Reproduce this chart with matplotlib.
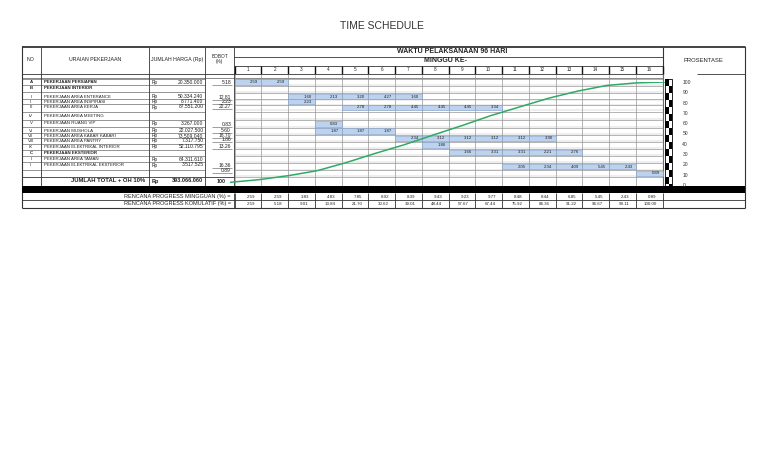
import matplotlib
matplotlib.use('Agg')
import matplotlib.pyplot as plt
from matplotlib.patches import Rectangle
import matplotlib.transforms as mtransforms

plt.rcParams['font.family'] = ['Liberation Sans', 'DejaVu Sans']

# ---------------- data ----------------
title = 'TIME SCHEDULE'
header_time = 'WAKTU PELAKSANAAN 96 HARI'
header_week = 'MINGGU KE-'
codes = ['A', 'B', 'I', 'II', 'III', 'IV', 'V', 'VI', 'VII', 'VIII', 'IX', 'C', 'I', 'II']
items = ['PEKERJAAN PERSIAPAN', 'PEKERJAAN INTERIOR', 'PEKERJAAN AREA ENTERANCE',
         'PEKERJAAN AREA INSPIRASI', 'PEKERJAAN AREA KERJA', 'PEKERJAAN AREA MEETING',
         'PEKERJAAN RUANG VIP', 'PEKERJAAN MUSHOLA', 'PEKERJAAN AREA KABAR KABARI',
         'PEKERJAAN AREA PANTRY', 'PEKERJAAN ELEKTRIKAL INTERIOR', 'PEKERJAAN EKSTERIOR',
         'PEKERJAAN AREA TAMAN', 'PEKERJAAN ELEKTRIKAL EKSTERIOR']
section_rows = [0, 1, 11]
prices = ['20.350.000', '', '50.334.240', '8.771.400', '87.551.200', '', '3.267.000',
          '22.027.500', '73.509.040', '7.317.750', '52.110.795', '', '64.311.610', '3.517.525']
weights = [5.18, None, 12.81, 2.23, 22.27, None, 0.83, 5.60, 18.70, 1.86, 13.26, None, 16.36, 0.89]
sched_start = [1, None, 3, 3, 5, None, 4, 4, 7, 8, 9, None, 11, 16]
sched_vals = [[2.59, 2.59], [], [1.60, 2.13, 3.20, 4.27, 1.60], [2.23],
              [2.78, 2.78, 4.45, 4.45, 4.45, 3.34], [], [0.83], [1.87, 1.87, 1.87],
              [2.34, 3.12, 3.12, 3.12, 3.12, 3.90], [1.86], [1.66, 3.31, 3.31, 2.21, 2.76],
              [], [2.05, 2.34, 4.09, 5.45, 2.43], [0.89]]
weeks = list(range(1, 17))
weekly = [2.59, 2.59, 3.83, 4.83, 7.85, 8.92, 8.39, 9.43, 9.23, 9.77, 8.48, 8.44, 6.85, 5.45, 2.43, 0.89]
cumulative = [2.59, 5.18, 9.01, 13.84, 21.70, 30.62, 39.01, 48.44, 57.67, 67.44, 75.92,
              84.36, 91.22, 96.67, 99.11, 100.00]
total_label = 'JUMLAH TOTAL + OH 10%'
total_price = '393.066.060'
total_weight = '100'
pct_ticks = [0, 10, 20, 30, 40, 50, 60, 70, 80, 90, 100]
row_weekly_label = 'RENCANA PROGRESS MINGGUAN (%) ='
row_cum_label = 'RENCANA PROGRESS KOMULATIF (%) ='

# ---------------- layout ----------------
W, H = 768, 466
fig = plt.figure(figsize=(7.68, 4.66), dpi=100)
ax = fig.add_axes([0, 0, 1, 1])
ax.set_xlim(0, W)
ax.set_ylim(H, 0)
ax.axis('off')

XL, XNO, XUR, XJH, XBB = 22, 41, 149, 205, 233.5
XW0, XW1 = 234.5, 662.5
XR = 745
CW = (XW1 - XW0) / 16
LC = '#333333'
TC = '#222222'

label_y = [82.3, 87.8, 96.7, 101.7, 107, 116, 123.5, 130.5, 136, 140.7, 146.7, 153.3, 159.3, 165]
grid_y = [82, 89, 96.7, 101.7, 107.3, 116, 124, 131, 138.3, 145, 152.3, 159.5, 166.7, 173.3]
bobot_y = [82.5, None, 97.3, 101.7, 106, None, 124, 130.7, 135.7, 139.5, 146, None, 165.7, 170.7]


def colx(w):
    return XW0 + (w - 1) * CW


def hl(y, x0, x1, lw=0.5, c=LC):
    ax.plot([x0, x1], [y, y], color=c, lw=lw, solid_capstyle='butt')


def vl(x, y0, y1, lw=0.5, c=LC):
    ax.plot([x, x], [y0, y1], color=c, lw=lw, solid_capstyle='butt')


def tx(x, y, s, size=3.6, ha='left', weight='normal', c=TC):
    ax.text(x, y, s, fontsize=size, ha=ha, va='center', fontweight=weight, color=c)


# title
tx(382, 26, title, size=7.5, ha='center', c='#333333')

# outer frame + header
hl(46.5, XL, XR, lw=1.1, c='#111111')
vl(XL, 46, 207.5, lw=0.8)
vl(XR, 46, 207.5, lw=0.8)
for x in (XNO, XUR, XJH, XBB):
    vl(x, 46.5, 186, lw=0.6)
vl(XW1, 46.5, 186, lw=0.8)
hl(73.5, XL, XW1, lw=0.6)
hl(78.3, XL, XW1, lw=0.4)
hl(56.5, XBB, XW1, lw=0.6)
hl(65.5, XBB, XW1, lw=0.6)
hl(73.5, 697, XR, lw=0.6)

tx(31, 59.5, 'NO', ha='center', size=3.8)
tx(95, 59.5, 'URAIAN PEKERJAAN', ha='center', size=3.8)
tx(177.5, 59.5, 'JUMLAH HARGA (Rp)', ha='center', size=3.8)
tx(219.5, 56.7, 'BOBOT', ha='center', size=3.4)
tx(219.5, 61.7, '(%)', ha='center', size=3.4)
tx(452, 51.5, header_time, ha='center', size=5, weight='bold')
tx(445, 60.5, header_week, ha='center', size=5, weight='bold')
tx(703, 60, 'PROSENTASE', ha='center', size=4.2)

# week columns
for w in weeks:
    tx(colx(w) + CW / 2, 69.6, str(w), ha='center', size=3.3)
for k in range(17):
    x = XW0 + k * CW
    vl(x, 65.5, 73.5, lw=1.0, c='#111111')
    vl(x, 73.5, 186, lw=0.45, c='#8a8a8a')

# week grid horizontal lines
bounds = [78.5] + [(grid_y[i] + grid_y[i + 1]) / 2 for i in range(len(grid_y) - 1)] + [176.5]
for b in bounds:
    hl(b, XW0, XW1, lw=0.45, c='#8a8a8a')
for gy in grid_y:
    hl(gy + 2.8, XW0, XW1, lw=0.3, c='#b0b0b0')

# left table rows
lb = [78.5] + [(label_y[i] + label_y[i + 1]) / 2 for i in range(len(label_y) - 1)] + [170]
for b in lb:
    hl(b, XL, XJH, lw=0.4, c='#444444')
hl(176.5, XL, XBB, lw=0.6)

for i, (code, item) in enumerate(zip(codes, items)):
    y = label_y[i]
    wt = 'bold' if i in section_rows else 'normal'
    tx(31, y, code, ha='center', size=3.2, weight=wt)
    tx(44, y, item, size=3.2, weight=wt)
    if prices[i]:
        tx(151.5, y, 'Rp', size=3.4)
        tx(203.5, y, prices[i], ha='right', size=3.6)
    if weights[i] is not None:
        by = bobot_y[i]
        tx(231, by, f'{weights[i]:.2f}', ha='right', size=3.6)
        hl(by + 2.7, 212, 232, lw=0.4, c='#555555')

# schedule cells
for i, (st, vals) in enumerate(zip(sched_start, sched_vals)):
    if st is None:
        continue
    y = grid_y[i]
    for j, v in enumerate(vals):
        x0 = colx(st + j)
        ax.add_patch(Rectangle((x0, y - 2.7), CW, 5.4, facecolor='#bcd2ee',
                               edgecolor='#7e9cc4', lw=0.4, zorder=2))
        ax.text(x0 + CW - 3, y, f'{v:.2f}', fontsize=3.1, ha='right', va='center',
                color=TC, zorder=3)

# total row
tx(145, 181, total_label, ha='right', size=4.2, weight='bold')
tx(151.5, 181, 'Rp', size=4.0, weight='bold')
tx(203.5, 181, total_price, ha='right', size=4.0, weight='bold')
tx(221, 181.5, total_weight, ha='center', size=3.8, weight='bold')

# black band
ax.add_patch(Rectangle((XL, 186), XR - XL, 7, facecolor='black', edgecolor='none', zorder=4))

# bottom progress rows
hl(200.2, XL, XR, lw=0.6)
hl(207.5, XL, XR, lw=0.8)
vl(XBB, 193, 207.5, lw=0.6)
for k in range(17):
    vl(XW0 + k * CW, 193, 207.5, lw=0.6)
tx(231, 196.6, row_weekly_label, ha='right', size=4.0)
tx(231, 203.9, row_cum_label, ha='right', size=4.0)
for w, a, c in zip(weeks, weekly, cumulative):
    tx(colx(w) + CW - 6, 196.6, f'{a:.2f}', ha='right', size=3.2)
    tx(colx(w) + CW - 6, 203.9, f'{c:.2f}', ha='right', size=3.2)

# ---------------- S-curve ----------------
c_left, c_right, c_top, c_bot = 230, 665, 82, 185
ax2 = fig.add_axes([c_left / W, 1 - c_bot / H, (c_right - c_left) / W, (c_bot - c_top) / H])
ax2.patch.set_alpha(0)
ax2.set_xlim(1, 16)
ax2.set_ylim(0, 100)
ax2.plot(weeks, cumulative, color='#2faa66', lw=1.1, zorder=5)
for s in ax2.spines.values():
    s.set_visible(False)
ax2.set_xticks([])
ax2.yaxis.tick_right()
ax2.set_yticks(pct_ticks)
ax2.set_yticklabels([str(t) for t in pct_ticks])
ax2.tick_params(axis='y', length=0, pad=12.5, labelsize=3.6, labelcolor='#333333')

# checkered scale bar beside the curve
blend = mtransforms.blended_transform_factory(ax2.transAxes, ax2.transData)
bw = 3.7 / (c_right - c_left)
bar_lo, bar_hi, nseg = -5.5, 103, 16
seg = (bar_hi - bar_lo) / nseg
for k in range(nseg):
    side = (nseg - 1 - k) % 2  # top segment black on the left
    ax2.add_patch(Rectangle((1.0 + side * bw, bar_lo + k * seg), bw, seg, transform=blend,
                            facecolor='black', edgecolor='none', clip_on=False))
ax2.add_patch(Rectangle((1.0, bar_lo), 2 * bw, bar_hi - bar_lo, transform=blend,
                        facecolor='none', edgecolor='black', lw=0.6, clip_on=False))

fig.savefig('out.png', dpi=100, facecolor='white')
